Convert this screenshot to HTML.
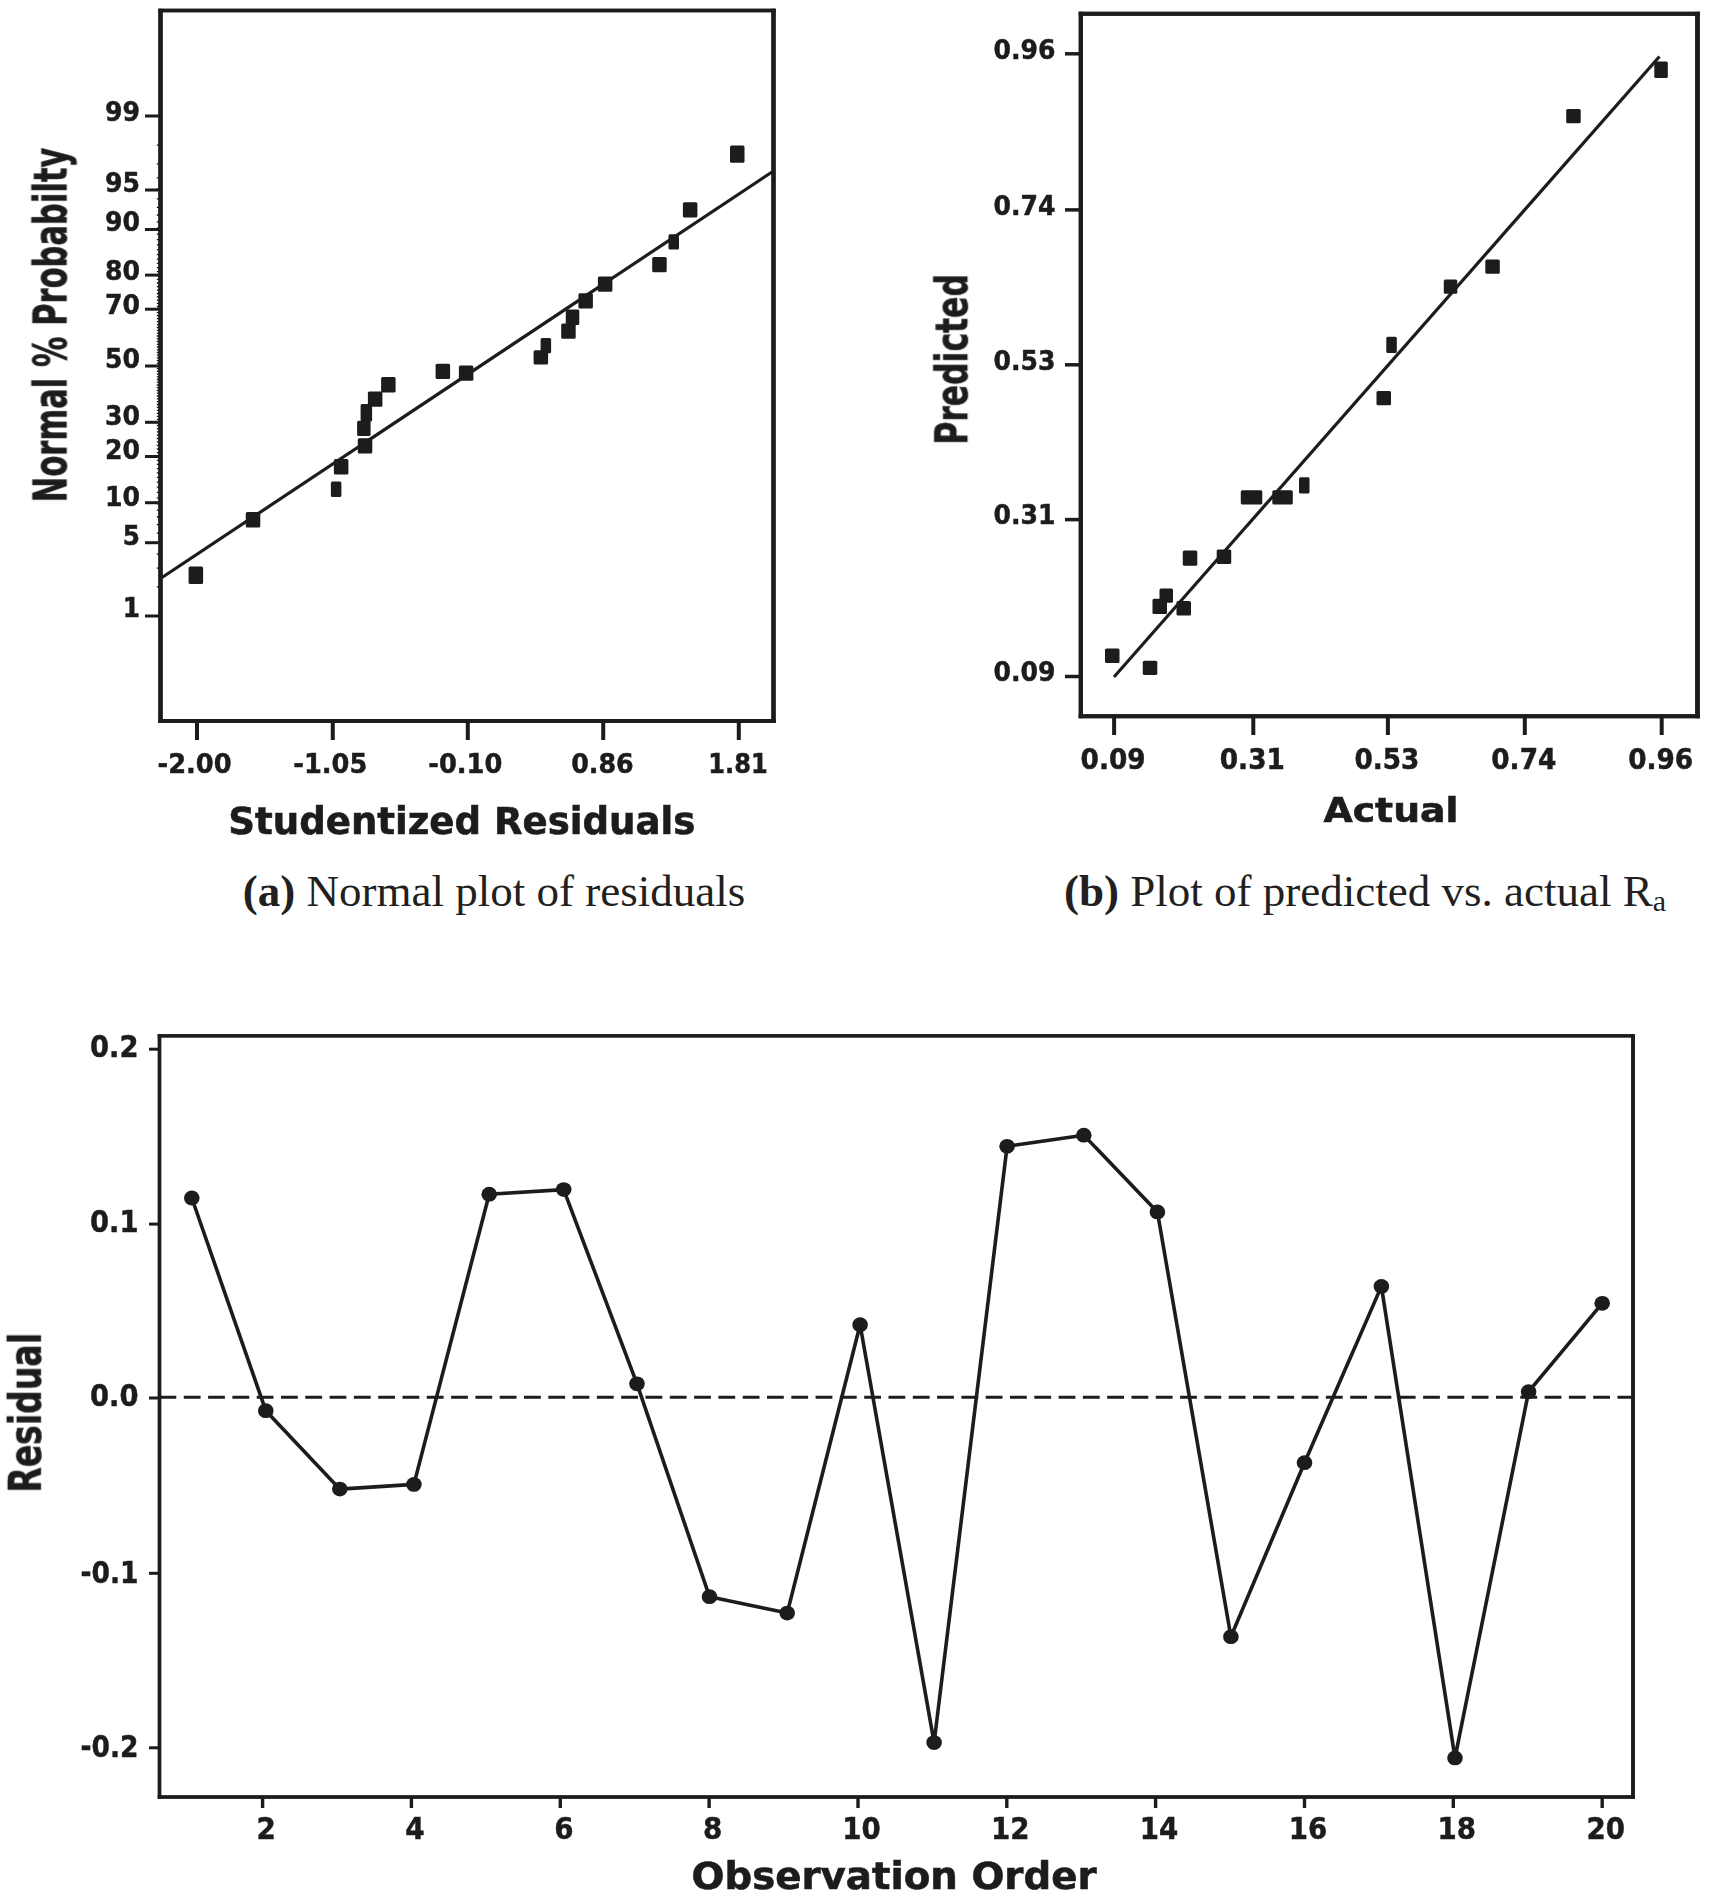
<!DOCTYPE html>
<html><head><meta charset="utf-8"><title>Residual plots</title>
<style>html,body{margin:0;padding:0;background:#fff}svg{display:block}.tk{font-family:"DejaVu Sans","Liberation Sans",sans-serif;font-weight:bold;fill:#1c1c1c;stroke:#1c1c1c;stroke-width:0.5px}.ti{font-family:"DejaVu Sans","Liberation Sans",sans-serif;font-weight:bold;fill:#1c1c1c;stroke:#1c1c1c;stroke-width:0.6px}.cap{font-family:"Liberation Serif",serif;fill:#231f20}</style></head><body>
<svg width="1715" height="1901" viewBox="0 0 1715 1901">
<rect width="1715" height="1901" fill="#fff"/>
<defs><filter id="soft" filterUnits="userSpaceOnUse" x="0" y="0" width="1715" height="1901"><feGaussianBlur stdDeviation="0.65"/></filter></defs>
<g id="plot-a" filter="url(#soft)">
<rect x="160.5" y="10.5" width="613.0" height="710.5" fill="none" stroke="#1c1c1c" stroke-width="3.5"/>
<line x1="160.5" y1="8.75" x2="160.5" y2="723.0" stroke="#1c1c1c" stroke-width="4.6"/>
<line x1="773.5" y1="8.75" x2="773.5" y2="723.0" stroke="#1c1c1c" stroke-width="4.6"/>
<line x1="158.2" y1="10.5" x2="775.8" y2="10.5" stroke="#1c1c1c" stroke-width="3.5"/>
<line x1="158.2" y1="721" x2="775.8" y2="721" stroke="#1c1c1c" stroke-width="4.0"/>
<line x1="145" y1="116" x2="160.5" y2="116" stroke="#1c1c1c" stroke-width="3"/>
<text x="140" y="121" class="tk" font-size="27" text-anchor="end" textLength="35" lengthAdjust="spacingAndGlyphs">99</text>
<line x1="145" y1="190" x2="160.5" y2="190" stroke="#1c1c1c" stroke-width="3"/>
<text x="140" y="191.5" class="tk" font-size="27" text-anchor="end" textLength="35" lengthAdjust="spacingAndGlyphs">95</text>
<line x1="145" y1="229.5" x2="160.5" y2="229.5" stroke="#1c1c1c" stroke-width="3"/>
<text x="140" y="231.0" class="tk" font-size="27" text-anchor="end" textLength="35" lengthAdjust="spacingAndGlyphs">90</text>
<line x1="145" y1="275.1" x2="160.5" y2="275.1" stroke="#1c1c1c" stroke-width="3"/>
<text x="140" y="279.6" class="tk" font-size="27" text-anchor="end" textLength="35" lengthAdjust="spacingAndGlyphs">80</text>
<line x1="145" y1="309.2" x2="160.5" y2="309.2" stroke="#1c1c1c" stroke-width="3"/>
<text x="140" y="313.7" class="tk" font-size="27" text-anchor="end" textLength="35" lengthAdjust="spacingAndGlyphs">70</text>
<line x1="145" y1="366" x2="160.5" y2="366" stroke="#1c1c1c" stroke-width="3"/>
<text x="140" y="368.2" class="tk" font-size="27" text-anchor="end" textLength="35" lengthAdjust="spacingAndGlyphs">50</text>
<line x1="145" y1="422.3" x2="160.5" y2="422.3" stroke="#1c1c1c" stroke-width="3"/>
<text x="140" y="424.8" class="tk" font-size="27" text-anchor="end" textLength="35" lengthAdjust="spacingAndGlyphs">30</text>
<line x1="145" y1="456.5" x2="160.5" y2="456.5" stroke="#1c1c1c" stroke-width="3"/>
<text x="140" y="459.0" class="tk" font-size="27" text-anchor="end" textLength="35" lengthAdjust="spacingAndGlyphs">20</text>
<line x1="145" y1="502.7" x2="160.5" y2="502.7" stroke="#1c1c1c" stroke-width="3"/>
<text x="140" y="505.7" class="tk" font-size="27" text-anchor="end" textLength="35" lengthAdjust="spacingAndGlyphs">10</text>
<line x1="145" y1="542.7" x2="160.5" y2="542.7" stroke="#1c1c1c" stroke-width="3"/>
<text x="140" y="545.4000000000001" class="tk" font-size="27" text-anchor="end" textLength="17.2" lengthAdjust="spacingAndGlyphs">5</text>
<line x1="145" y1="616" x2="160.5" y2="616" stroke="#1c1c1c" stroke-width="3"/>
<text x="140" y="616.5" class="tk" font-size="27" text-anchor="end" textLength="17.2" lengthAdjust="spacingAndGlyphs">1</text>
<path d="M156.8 586.8H160M156.8 568.2H160M156.8 554.2H160M156.8 542.8H160M156.8 533.1H160M156.8 524.6H160M156.8 517.0H160M156.8 510.1H160M156.8 503.8H160M156.8 497.9H160M156.8 492.3H160M156.8 487.1H160M156.8 482.1H160M156.8 477.4H160M156.8 472.9H160M156.8 468.6H160M156.8 464.4H160M156.8 460.4H160M156.8 456.5H160M156.8 452.7H160M156.8 449.0H160M156.8 445.4H160M156.8 441.9H160M156.8 438.5H160M156.8 435.2H160M156.8 431.9H160M156.8 428.7H160M156.8 425.5H160M156.8 422.4H160M156.8 419.3H160M156.8 416.3H160M156.8 413.3H160M156.8 410.3H160M156.8 407.4H160M156.8 404.5H160M156.8 401.7H160M156.8 398.8H160M156.8 396.0H160M156.8 393.2H160M156.8 390.5H160M156.8 387.7H160M156.8 385.0H160M156.8 382.2H160M156.8 379.5H160M156.8 376.8H160M156.8 374.1H160M156.8 371.4H160M156.8 368.7H160M156.8 366.0H160M156.8 363.3H160M156.8 360.6H160M156.8 357.9H160M156.8 355.2H160M156.8 352.5H160M156.8 349.8H160M156.8 347.0H160M156.8 344.3H160M156.8 341.5H160M156.8 338.8H160M156.8 336.0H160M156.8 333.2H160M156.8 330.3H160M156.8 327.5H160M156.8 324.6H160M156.8 321.7H160M156.8 318.7H160M156.8 315.7H160M156.8 312.7H160M156.8 309.6H160M156.8 306.5H160M156.8 303.3H160M156.8 300.1H160M156.8 296.8H160M156.8 293.5H160M156.8 290.1H160M156.8 286.6H160M156.8 283.0H160M156.8 279.3H160M156.8 275.5H160M156.8 271.6H160M156.8 267.6H160M156.8 263.4H160M156.8 259.1H160M156.8 254.6H160M156.8 249.9H160M156.8 244.9H160M156.8 239.7H160M156.8 234.1H160M156.8 228.2H160M156.8 221.9H160M156.8 215.0H160M156.8 207.4H160M156.8 198.9H160M156.8 189.2H160M156.8 177.8H160M156.8 163.8H160M156.8 145.2H160" stroke="#1c1c1c" stroke-width="1.3" fill="none"/>
<line x1="197" y1="721" x2="197" y2="740" stroke="#1c1c1c" stroke-width="4"/>
<text x="194.5" y="772.5" class="tk" font-size="27" text-anchor="middle" textLength="74" lengthAdjust="spacingAndGlyphs">-2.00</text>
<line x1="332.8" y1="721" x2="332.8" y2="740" stroke="#1c1c1c" stroke-width="4"/>
<text x="330.3" y="772.5" class="tk" font-size="27" text-anchor="middle" textLength="74" lengthAdjust="spacingAndGlyphs">-1.05</text>
<line x1="467.8" y1="721" x2="467.8" y2="740" stroke="#1c1c1c" stroke-width="4"/>
<text x="465.3" y="772.5" class="tk" font-size="27" text-anchor="middle" textLength="74" lengthAdjust="spacingAndGlyphs">-0.10</text>
<line x1="603.2" y1="721" x2="603.2" y2="740" stroke="#1c1c1c" stroke-width="4"/>
<text x="602.4000000000001" y="772.5" class="tk" font-size="27" text-anchor="middle" textLength="62.5" lengthAdjust="spacingAndGlyphs">0.86</text>
<line x1="738.8" y1="721" x2="738.8" y2="740" stroke="#1c1c1c" stroke-width="4"/>
<text x="738.0" y="772.5" class="tk" font-size="27" text-anchor="middle" textLength="59.5" lengthAdjust="spacingAndGlyphs">1.81</text>
<line x1="162" y1="577.5" x2="772" y2="172" stroke="#1c1c1c" stroke-width="3.2"/>
<rect x="188.6" y="566.6" width="14.5" height="17.3" rx="1.5" fill="#1c1c1c"/>
<rect x="245.8" y="512.1" width="14.5" height="15.3" rx="1.5" fill="#1c1c1c"/>
<rect x="330.9" y="481.6" width="10.5" height="15.3" rx="1.5" fill="#1c1c1c"/>
<rect x="333.9" y="459.1" width="14.5" height="15.3" rx="1.5" fill="#1c1c1c"/>
<rect x="357.8" y="438.2" width="14.5" height="15.3" rx="1.5" fill="#1c1c1c"/>
<rect x="357.1" y="420.7" width="13.5" height="15.3" rx="1.5" fill="#1c1c1c"/>
<rect x="360.6" y="404.1" width="11.5" height="17.3" rx="1.5" fill="#1c1c1c"/>
<rect x="367.9" y="391.4" width="14.5" height="15.3" rx="1.5" fill="#1c1c1c"/>
<rect x="381.1" y="377.1" width="14.5" height="15.3" rx="1.5" fill="#1c1c1c"/>
<rect x="435.6" y="363.8" width="14.5" height="15.3" rx="1.5" fill="#1c1c1c"/>
<rect x="458.9" y="365.5" width="14.5" height="15.3" rx="1.5" fill="#1c1c1c"/>
<rect x="533.6" y="350.2" width="14.5" height="14.3" rx="1.5" fill="#1c1c1c"/>
<rect x="540.6" y="337.9" width="10.5" height="15.3" rx="1.5" fill="#1c1c1c"/>
<rect x="561.2" y="323.4" width="14.5" height="15.3" rx="1.5" fill="#1c1c1c"/>
<rect x="565.8" y="309.6" width="13.5" height="15.3" rx="1.5" fill="#1c1c1c"/>
<rect x="578.4" y="293.2" width="14.5" height="15.3" rx="1.5" fill="#1c1c1c"/>
<rect x="597.9" y="276.5" width="14.5" height="15.3" rx="1.5" fill="#1c1c1c"/>
<rect x="652.2" y="256.9" width="14.5" height="15.3" rx="1.5" fill="#1c1c1c"/>
<rect x="668.5" y="234.3" width="10.5" height="15.3" rx="1.5" fill="#1c1c1c"/>
<rect x="682.9" y="202.2" width="14.5" height="15.3" rx="1.5" fill="#1c1c1c"/>
<rect x="730.0" y="145.5" width="14.5" height="17.3" rx="1.5" fill="#1c1c1c"/>
<text transform="translate(66.5,325) rotate(-90) scale(0.65,1)" class="ti" font-size="47" text-anchor="middle">Normal % Probabilty</text>
<text x="461.8" y="833.7" class="ti" font-size="37" text-anchor="middle" textLength="467" lengthAdjust="spacingAndGlyphs">Studentized Residuals</text>
</g>
<text x="494" y="906.3" class="cap" font-size="45" text-anchor="middle"><tspan font-weight="bold">(a)</tspan> Normal plot of residuals</text>
<g id="plot-b" filter="url(#soft)">
<rect x="1080.8" y="13.8" width="616.7" height="702.4000000000001" fill="none" stroke="#1c1c1c" stroke-width="4"/>
<line x1="1080.8" y1="11.8" x2="1080.8" y2="718.2" stroke="#1c1c1c" stroke-width="4.2"/>
<line x1="1697.5" y1="11.8" x2="1697.5" y2="718.2" stroke="#1c1c1c" stroke-width="4.8"/>
<line x1="1078.7" y1="13.8" x2="1699.9" y2="13.8" stroke="#1c1c1c" stroke-width="4"/>
<line x1="1078.7" y1="716.2" x2="1699.9" y2="716.2" stroke="#1c1c1c" stroke-width="4"/>
<line x1="1065" y1="53.8" x2="1080.8" y2="53.8" stroke="#1c1c1c" stroke-width="3.5"/>
<text x="1055.5" y="58.5" class="tk" font-size="27.4" text-anchor="end" textLength="62" lengthAdjust="spacingAndGlyphs">0.96</text>
<line x1="1065" y1="209.9" x2="1080.8" y2="209.9" stroke="#1c1c1c" stroke-width="3.5"/>
<text x="1055.5" y="214.6" class="tk" font-size="27.4" text-anchor="end" textLength="62" lengthAdjust="spacingAndGlyphs">0.74</text>
<line x1="1065" y1="364.8" x2="1080.8" y2="364.8" stroke="#1c1c1c" stroke-width="3.5"/>
<text x="1055.5" y="369.5" class="tk" font-size="27.4" text-anchor="end" textLength="62" lengthAdjust="spacingAndGlyphs">0.53</text>
<line x1="1065" y1="519.6" x2="1080.8" y2="519.6" stroke="#1c1c1c" stroke-width="3.5"/>
<text x="1055.5" y="524.3000000000001" class="tk" font-size="27.4" text-anchor="end" textLength="62" lengthAdjust="spacingAndGlyphs">0.31</text>
<line x1="1065" y1="676.5" x2="1080.8" y2="676.5" stroke="#1c1c1c" stroke-width="3.5"/>
<text x="1055.5" y="681.2" class="tk" font-size="27.4" text-anchor="end" textLength="62" lengthAdjust="spacingAndGlyphs">0.09</text>
<line x1="1114.1" y1="716.2" x2="1114.1" y2="735" stroke="#1c1c1c" stroke-width="4"/>
<text x="1113.1" y="768.7" class="tk" font-size="27.6" text-anchor="middle" textLength="65" lengthAdjust="spacingAndGlyphs">0.09</text>
<line x1="1253.3" y1="716.2" x2="1253.3" y2="735" stroke="#1c1c1c" stroke-width="4"/>
<text x="1252.3" y="768.7" class="tk" font-size="27.6" text-anchor="middle" textLength="65" lengthAdjust="spacingAndGlyphs">0.31</text>
<line x1="1387.9" y1="716.2" x2="1387.9" y2="735" stroke="#1c1c1c" stroke-width="4"/>
<text x="1386.9" y="768.7" class="tk" font-size="27.6" text-anchor="middle" textLength="65" lengthAdjust="spacingAndGlyphs">0.53</text>
<line x1="1524.8" y1="716.2" x2="1524.8" y2="735" stroke="#1c1c1c" stroke-width="4"/>
<text x="1523.8" y="768.7" class="tk" font-size="27.6" text-anchor="middle" textLength="65" lengthAdjust="spacingAndGlyphs">0.74</text>
<line x1="1661.7" y1="716.2" x2="1661.7" y2="735" stroke="#1c1c1c" stroke-width="4"/>
<text x="1660.7" y="768.7" class="tk" font-size="27.6" text-anchor="middle" textLength="65" lengthAdjust="spacingAndGlyphs">0.96</text>
<line x1="1114" y1="677" x2="1659.5" y2="56.5" stroke="#1c1c1c" stroke-width="3.2"/>
<rect x="1654.3" y="61.6" width="13.5" height="16.3" rx="1.5" fill="#1c1c1c"/>
<rect x="1566.2" y="108.9" width="14.5" height="14.3" rx="1.5" fill="#1c1c1c"/>
<rect x="1485.3" y="259.4" width="14.5" height="14.3" rx="1.5" fill="#1c1c1c"/>
<rect x="1443.8" y="279.5" width="13.5" height="14.3" rx="1.5" fill="#1c1c1c"/>
<rect x="1386.3" y="336.7" width="10.5" height="16.3" rx="1.5" fill="#1c1c1c"/>
<rect x="1376.5" y="390.9" width="14.5" height="14.3" rx="1.5" fill="#1c1c1c"/>
<rect x="1299.0" y="477.2" width="10.5" height="16.3" rx="1.5" fill="#1c1c1c"/>
<rect x="1272.3" y="490.2" width="20.5" height="14.3" rx="1.5" fill="#1c1c1c"/>
<rect x="1240.8" y="490.2" width="21.5" height="14.3" rx="1.5" fill="#1c1c1c"/>
<rect x="1216.7" y="549.6" width="14.5" height="14.3" rx="1.5" fill="#1c1c1c"/>
<rect x="1182.8" y="550.4" width="14.5" height="15.3" rx="1.5" fill="#1c1c1c"/>
<rect x="1159.5" y="588.5" width="13.5" height="14.3" rx="1.5" fill="#1c1c1c"/>
<rect x="1152.5" y="598.8" width="14.5" height="15.3" rx="1.5" fill="#1c1c1c"/>
<rect x="1176.5" y="601.1" width="14.5" height="14.3" rx="1.5" fill="#1c1c1c"/>
<rect x="1105.0" y="648.6" width="14.5" height="14.3" rx="1.5" fill="#1c1c1c"/>
<rect x="1142.8" y="660.8" width="14.5" height="14.3" rx="1.5" fill="#1c1c1c"/>
<text transform="translate(967.3,359.4) rotate(-90) scale(0.715,1)" class="ti" font-size="44" text-anchor="middle">Predicted</text>
<text x="1391" y="822.3" class="ti" font-size="34.5" text-anchor="middle" textLength="135" lengthAdjust="spacingAndGlyphs">Actual</text>
</g>
<text x="1365" y="906.3" class="cap" font-size="45" text-anchor="middle"><tspan font-weight="bold">(b)</tspan> Plot of predicted vs. actual R<tspan font-size="30" dy="4.5">a</tspan></text>
<g id="plot-c" filter="url(#soft)">
<rect x="159.5" y="1035.8" width="1473.5" height="761.2" fill="none" stroke="#1c1c1c" stroke-width="3.2"/>
<line x1="159.5" y1="1034.2" x2="159.5" y2="1798.8" stroke="#1c1c1c" stroke-width="3.6"/>
<line x1="1633" y1="1034.2" x2="1633" y2="1798.8" stroke="#1c1c1c" stroke-width="3.8"/>
<line x1="157.7" y1="1035.8" x2="1634.9" y2="1035.8" stroke="#1c1c1c" stroke-width="3.2"/>
<line x1="157.7" y1="1797" x2="1634.9" y2="1797" stroke="#1c1c1c" stroke-width="3.6"/>
<line x1="149" y1="1049.2" x2="159.5" y2="1049.2" stroke="#1c1c1c" stroke-width="3"/>
<text x="138.5" y="1057.0" class="tk" font-size="30" text-anchor="end" textLength="48.5" lengthAdjust="spacingAndGlyphs">0.2</text>
<line x1="149" y1="1224.1" x2="159.5" y2="1224.1" stroke="#1c1c1c" stroke-width="3"/>
<text x="138.5" y="1231.8999999999999" class="tk" font-size="30" text-anchor="end" textLength="48.5" lengthAdjust="spacingAndGlyphs">0.1</text>
<line x1="149" y1="1398" x2="159.5" y2="1398" stroke="#1c1c1c" stroke-width="3"/>
<text x="138.5" y="1405.8" class="tk" font-size="30" text-anchor="end" textLength="48.5" lengthAdjust="spacingAndGlyphs">0.0</text>
<line x1="149" y1="1573.3" x2="159.5" y2="1573.3" stroke="#1c1c1c" stroke-width="3"/>
<text x="138.5" y="1582.5" class="tk" font-size="30" text-anchor="end" textLength="58" lengthAdjust="spacingAndGlyphs">-0.1</text>
<line x1="149" y1="1747.8" x2="159.5" y2="1747.8" stroke="#1c1c1c" stroke-width="3"/>
<text x="138.5" y="1757.0" class="tk" font-size="30" text-anchor="end" textLength="58" lengthAdjust="spacingAndGlyphs">-0.2</text>
<line x1="262.6" y1="1797" x2="262.6" y2="1808" stroke="#1c1c1c" stroke-width="3.4"/>
<text x="266.1" y="1838.8" class="tk" font-size="30" text-anchor="middle" textLength="19.3" lengthAdjust="spacingAndGlyphs">2</text>
<line x1="411.4" y1="1797" x2="411.4" y2="1808" stroke="#1c1c1c" stroke-width="3.4"/>
<text x="414.9" y="1838.8" class="tk" font-size="30" text-anchor="middle" textLength="19.3" lengthAdjust="spacingAndGlyphs">4</text>
<line x1="560.3" y1="1797" x2="560.3" y2="1808" stroke="#1c1c1c" stroke-width="3.4"/>
<text x="563.8" y="1838.8" class="tk" font-size="30" text-anchor="middle" textLength="19.3" lengthAdjust="spacingAndGlyphs">6</text>
<line x1="709.1" y1="1797" x2="709.1" y2="1808" stroke="#1c1c1c" stroke-width="3.4"/>
<text x="712.6" y="1838.8" class="tk" font-size="30" text-anchor="middle" textLength="19.3" lengthAdjust="spacingAndGlyphs">8</text>
<line x1="858.0" y1="1797" x2="858.0" y2="1808" stroke="#1c1c1c" stroke-width="3.4"/>
<text x="861.5" y="1838.8" class="tk" font-size="30" text-anchor="middle" textLength="38.5" lengthAdjust="spacingAndGlyphs">10</text>
<line x1="1006.8" y1="1797" x2="1006.8" y2="1808" stroke="#1c1c1c" stroke-width="3.4"/>
<text x="1010.3" y="1838.8" class="tk" font-size="30" text-anchor="middle" textLength="38.5" lengthAdjust="spacingAndGlyphs">12</text>
<line x1="1155.6" y1="1797" x2="1155.6" y2="1808" stroke="#1c1c1c" stroke-width="3.4"/>
<text x="1159.1" y="1838.8" class="tk" font-size="30" text-anchor="middle" textLength="38.5" lengthAdjust="spacingAndGlyphs">14</text>
<line x1="1304.5" y1="1797" x2="1304.5" y2="1808" stroke="#1c1c1c" stroke-width="3.4"/>
<text x="1308.0" y="1838.8" class="tk" font-size="30" text-anchor="middle" textLength="38.5" lengthAdjust="spacingAndGlyphs">16</text>
<line x1="1453.3" y1="1797" x2="1453.3" y2="1808" stroke="#1c1c1c" stroke-width="3.4"/>
<text x="1456.8" y="1838.8" class="tk" font-size="30" text-anchor="middle" textLength="38.5" lengthAdjust="spacingAndGlyphs">18</text>
<line x1="1602.2" y1="1797" x2="1602.2" y2="1808" stroke="#1c1c1c" stroke-width="3.4"/>
<text x="1605.7" y="1838.8" class="tk" font-size="30" text-anchor="middle" textLength="38.5" lengthAdjust="spacingAndGlyphs">20</text>
<line x1="159.5" y1="1397.3" x2="1633" y2="1397.3" stroke="#1c1c1c" stroke-width="3" stroke-dasharray="16.8 7.5"/>
<polyline fill="none" stroke="#1c1c1c" stroke-width="3.6" stroke-linejoin="round" points="191.8,1198 265.8,1410.7 339.8,1489.1 413.9,1484.4 489.2,1194.2 563.7,1189.6 637,1383.8 709.5,1596.7 787.2,1613.1 860.1,1324.7 934.1,1742.6 1007.1,1146.3 1083.8,1135.2 1157.4,1211.9 1230.9,1636.7 1304.5,1462.7 1381.4,1286.4 1455,1757.9 1528.6,1391.7 1602.2,1303.3"/>
<ellipse cx="191.8" cy="1198" rx="7.8" ry="7.4" fill="#1c1c1c"/>
<ellipse cx="265.8" cy="1410.7" rx="7.8" ry="7.4" fill="#1c1c1c"/>
<ellipse cx="339.8" cy="1489.1" rx="7.8" ry="7.4" fill="#1c1c1c"/>
<ellipse cx="413.9" cy="1484.4" rx="7.8" ry="7.4" fill="#1c1c1c"/>
<ellipse cx="489.2" cy="1194.2" rx="7.8" ry="7.4" fill="#1c1c1c"/>
<ellipse cx="563.7" cy="1189.6" rx="7.8" ry="7.4" fill="#1c1c1c"/>
<ellipse cx="637" cy="1383.8" rx="7.8" ry="7.4" fill="#1c1c1c"/>
<ellipse cx="709.5" cy="1596.7" rx="7.8" ry="7.4" fill="#1c1c1c"/>
<ellipse cx="787.2" cy="1613.1" rx="7.8" ry="7.4" fill="#1c1c1c"/>
<ellipse cx="860.1" cy="1324.7" rx="7.8" ry="7.4" fill="#1c1c1c"/>
<ellipse cx="934.1" cy="1742.6" rx="7.8" ry="7.4" fill="#1c1c1c"/>
<ellipse cx="1007.1" cy="1146.3" rx="7.8" ry="7.4" fill="#1c1c1c"/>
<ellipse cx="1083.8" cy="1135.2" rx="7.8" ry="7.4" fill="#1c1c1c"/>
<ellipse cx="1157.4" cy="1211.9" rx="7.8" ry="7.4" fill="#1c1c1c"/>
<ellipse cx="1230.9" cy="1636.7" rx="7.8" ry="7.4" fill="#1c1c1c"/>
<ellipse cx="1304.5" cy="1462.7" rx="7.8" ry="7.4" fill="#1c1c1c"/>
<ellipse cx="1381.4" cy="1286.4" rx="7.8" ry="7.4" fill="#1c1c1c"/>
<ellipse cx="1455" cy="1757.9" rx="7.8" ry="7.4" fill="#1c1c1c"/>
<ellipse cx="1528.6" cy="1391.7" rx="7.8" ry="7.4" fill="#1c1c1c"/>
<ellipse cx="1602.2" cy="1303.3" rx="7.8" ry="7.4" fill="#1c1c1c"/>
<text transform="translate(40.8,1412.8) rotate(-90) scale(0.735,1)" class="ti" font-size="45" text-anchor="middle">Residual</text>
<text x="894" y="1888.5" class="ti" font-size="37" text-anchor="middle" textLength="405" lengthAdjust="spacingAndGlyphs">Observation Order</text>
</g>
</svg></body></html>
